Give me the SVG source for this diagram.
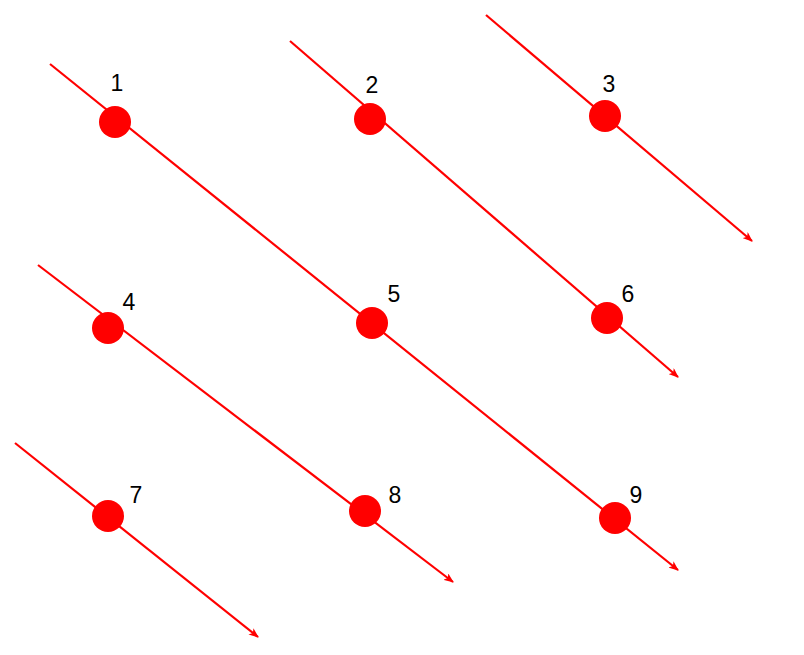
<svg xmlns="http://www.w3.org/2000/svg" width="804" height="655" viewBox="0 0 804 655">
<style>
.edge{stroke:#ff0000;stroke-width:2.2;fill:none;marker-end:url(#arr)}
.node{fill:#ff0000}
.lbl{font-family:"Liberation Sans","DejaVu Sans",sans-serif;font-size:23px;fill:#000;text-anchor:middle}
</style>
<defs>
<marker id="arr" viewBox="0 0 10 8" refX="9" refY="4" markerWidth="10" markerHeight="8" markerUnits="userSpaceOnUse" orient="auto">
<path d="M0,0 L10,4 L0,8 L2.5,4 z" fill="#ff0000"/>
</marker>
</defs>
<rect width="804" height="655" fill="#fff"/>
<g id="connectors">
<line class="edge" x1="50" y1="64" x2="678" y2="570"/>
<line class="edge" x1="290" y1="41" x2="678" y2="377"/>
<line class="edge" x1="486" y1="15" x2="752" y2="241"/>
<line class="edge" x1="38" y1="265" x2="453" y2="582"/>
<line class="edge" x1="15" y1="443" x2="258" y2="637"/>
</g>
<g id="n1"><circle class="node" cx="115" cy="122" r="16"/><text class="lbl" x="117" y="91">1</text></g>
<g id="n2"><circle class="node" cx="370" cy="119" r="16"/><text class="lbl" x="372" y="93">2</text></g>
<g id="n3"><circle class="node" cx="605" cy="116" r="16"/><text class="lbl" x="609" y="92">3</text></g>
<g id="n4"><circle class="node" cx="108" cy="328" r="16"/><text class="lbl" x="129" y="310">4</text></g>
<g id="n5"><circle class="node" cx="372" cy="323" r="16"/><text class="lbl" x="394" y="302">5</text></g>
<g id="n6"><circle class="node" cx="607" cy="318" r="16"/><text class="lbl" x="628" y="302">6</text></g>
<g id="n7"><circle class="node" cx="108" cy="516" r="16"/><text class="lbl" x="136" y="503">7</text></g>
<g id="n8"><circle class="node" cx="365" cy="511" r="16"/><text class="lbl" x="395" y="503">8</text></g>
<g id="n9"><circle class="node" cx="615" cy="518" r="16"/><text class="lbl" x="636" y="503">9</text></g>
</svg>
